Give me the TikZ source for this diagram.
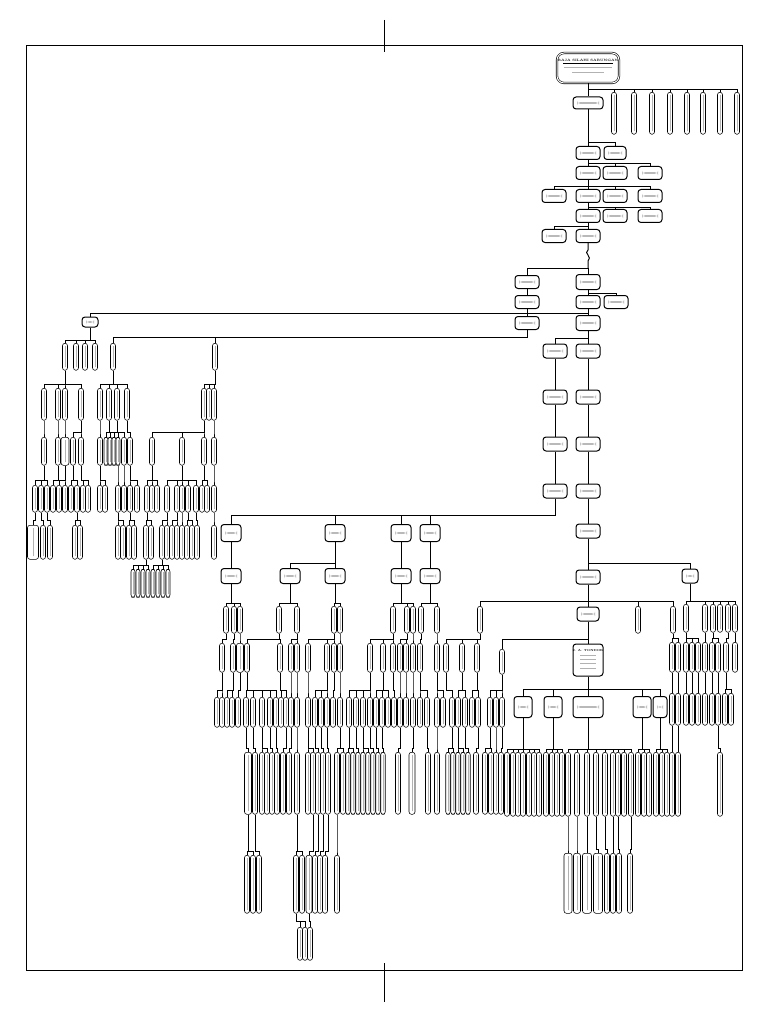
\documentclass[tikz,border=0pt]{standalone}
\begin{document}
\tikzset{
 con/.style={line width=1pt},
 capsule/.style={draw, line width=0.55pt, rounded corners=2.4pt, fill=white, inner sep=0pt,
   path picture={\draw[gray!60, line width=0.8pt] ([yshift=3pt]path picture bounding box.south) -- ([yshift=-3pt]path picture bounding box.north);}},
 box/.style={draw, line width=1pt, rounded corners=3pt, fill=white, inner sep=0pt, minimum width=24pt, minimum height=13pt,
   path picture={\fill[gray!55] ([xshift=4pt,yshift=-0.8pt]path picture bounding box.west) rectangle ([xshift=-4pt,yshift=0.8pt]path picture bounding box.east);}},
 tbox/.style={draw, line width=1pt, rounded corners=3pt, fill=white, inner sep=0pt},
 titlebox/.style={draw, double, double distance=1pt, line width=0.6pt, rounded corners=7pt, fill=white, inner sep=0pt, minimum width=62pt, minimum height=30pt}
}
% #1 width, #2 parent, #3 bar y, #4 list of x, #5 top y, #6 height, #7 prefix
\newcommand\kids[7][5]{%
  \foreach \xx [count=\k] in {#4}{%
    \node[capsule,minimum width=#1pt,minimum height=#6pt,anchor=north] (#7\k) at (\xx,#5) {};
    \draw[con] (#2.south) |- (\xx,#3) -- (#7\k.north);
  }}
\begin{tikzpicture}[x=1pt,y=-1pt]
\useasboundingbox (0,0) rectangle (768,1024);
\draw[line width=0.8pt] (26,45) rectangle (742,970);
\draw[line width=0.6pt] (384,20) -- (384,52);
\draw[line width=0.6pt] (384,963) -- (384,1002);

% ---------- top ----------
\node[titlebox] (root) at (588,68) {};
\node[font=\fontsize{3.2}{4}\selectfont\bfseries, inner sep=0pt] (rt) at (588,60) {RAJA SILAHI SABUNGAN};
\draw[line width=0.4pt] (563,63.5) -- (613,63.5);
\fill[gray!60] (564,67) rectangle (612,68.3);
\fill[gray!60] (572,72) rectangle (604,73.3);
\kids{root}{90}{614,634,652,670,687,703,720,737}{92}{42}{TP}
\node[box, minimum width=30pt, minimum height=12pt] (n1) at (588,103) {};
\draw[con] (root) -- (n1);
\node[box] (n2) at (588,153) {};
\node[box, minimum width=22pt] (s2) at (615,153) {};
\draw[con] (n1) -- (n2);
\draw[con] (n1.south) |- (615,143) -- (s2.north);
\node[box] (n3) at (588,173) {};
\node[box] (a3) at (615,173) {};
\node[box] (b3) at (650,173) {};
\draw[con] (n2) -- (n3);
\draw[con] (n2.south) |- (615,164) -- (a3.north);
\draw[con] (n2.south) |- (650,164) -- (b3.north);
\node[box] (c4) at (554,196) {};
\node[box] (n4) at (588,196) {};
\node[box] (a4) at (615,196) {};
\node[box] (b4) at (650,196) {};
\draw[con] (n3) -- (n4);
\draw[con] (n3.south) |- (554,187) -- (c4.north);
\draw[con] (n3.south) |- (615,187) -- (a4.north);
\draw[con] (n3.south) |- (650,187) -- (b4.north);
\node[box] (n5) at (588,216) {};
\node[box] (a5) at (615,216) {};
\node[box] (b5) at (650,216) {};
\draw[con] (n4) -- (n5);
\draw[con] (n4.south) |- (615,208) -- (a5.north);
\draw[con] (n4.south) |- (650,208) -- (b5.north);
\node[box] (c6) at (554,236) {};
\node[box] (n6) at (588,236) {};
\draw[con] (n5) -- (n6);
\draw[con] (n5.south) |- (554,227) -- (c6.north);
\coordinate (w) at (588,268);
\draw[con] (n6.south) -- (588,250) .. controls (583,253) and (593,257) .. (588,261) -- (w);

% ---------- upper spine ----------
\node[box] (c7) at (527,282) {};
\node[box, minimum height=15pt] (n7) at (588,282) {};
\draw[con] (w) -- (n7);
\draw[con] (w) -| (c7.north);
\node[box] (c8) at (527,302) {};
\node[box] (n8) at (588,302) {};
\node[box] (a8) at (616,302) {};
\draw[con] (c7) -- (c8);
\draw[con] (n7) -- (n8);
\draw[con] (n7.south) |- (616,293) -- (a8.north);
\node[box] (c9) at (527,323) {};
\node[box, minimum height=15pt] (n9) at (588,323) {};
\node[box, minimum width=16pt, minimum height=10pt] (L0) at (90,322) {};
\draw[con] (c8) -- (c9);
\draw[con] (n8) -- (n9);
\draw[con] (n8.south) |- (90,313) -- (L0.north);
\node[box, minimum height=14pt] (d10) at (555,351) {};
\node[box, minimum height=14pt] (n10) at (588,351) {};
\draw[con] (n9) -- (n10);
\draw[con] (n9.south) |- (555,338) -- (d10.north);
\node[box, minimum height=14pt] (d11) at (555,397) {};
\node[box, minimum height=14pt] (d12) at (555,444) {};
\node[box, minimum height=14pt] (d13) at (555,491) {};
\node[box, minimum height=14pt] (n11) at (588,397) {};
\node[box, minimum height=14pt] (n12) at (588,444) {};
\node[box, minimum height=14pt] (n13) at (588,491) {};
\draw[con] (d10) -- (d11) -- (d12) -- (d13);
\draw[con] (n10) -- (n11) -- (n12) -- (n13);

% ---------- middle row of boxes ----------
\foreach \nm/\xx in {e1/231,e2/335,e3/401,e4/430}{
  \node[box, minimum width=20pt, minimum height=17pt] (\nm) at (\xx,533) {};
  \draw[con] (d13.south) |- (\xx,515) -- (\nm.north);
}
\foreach \nm/\xx in {f1/231,f2/290,f3/335,f4/401,f5/430}{
  \node[box, minimum width=20pt, minimum height=15pt] (\nm) at (\xx,576) {};
}
\draw[con] (e1) -- (f1);
\draw[con] (e2) -- (f3);
\draw[con] (e2.south) |- (290,563) -- (f2.north);
\draw[con] (e3) -- (f4);
\draw[con] (e4) -- (f5);

% ---------- lower spine ----------
\node[box, minimum height=14pt] (n14) at (588,531) {};
\node[box, minimum height=14pt] (n15) at (588,577) {};
\node[box, minimum width=16pt, minimum height=14pt] (r15) at (690,576) {};
\draw[con] (n13) -- (n14) -- (n15);
\draw[con] (n14.south) |- (690,563) -- (r15.north);
\node[box, minimum width=22pt, minimum height=14pt] (n16) at (588,614) {};
\draw[con] (n15) -- (n16);
\kids{n15}{601}{480,638,673}{606}{27}{GS}
\kids{r15}{601}{686,705,713,720,728,735}{604}{28}{RG}
\node[tbox, minimum width=30pt, minimum height=32pt] (n17) at (588,660) {};
\node[font=\fontsize{2.9}{3.5}\selectfont\bfseries, inner sep=0pt] (tt) at (588,650) {2. A. TONDOK};
\foreach \yy in {655,659,663,668}{\fill[gray!60] (580,\yy) rectangle (596,\yy+1.2);}
\draw[con] (n16) -- (n17);
\kids{n16}{639}{502}{649}{25}{GT}
\foreach \nm/\xx/\ww in {h1/523/18,h2/553/18,h3/588/30,h4/642/18,h5/660/14}{
  \node[box, minimum width=\ww pt, minimum height=21pt] (\nm) at (\xx,707) {};
  \draw[con] (n17.south) |- (\xx,689) -- (\nm.north);
}
\kids{h1}{749}{507,513,518,523,529,534,539}{752}{64}{HA}
\kids{h2}{749}{546,552,557,562}{752}{64}{HB}
\kids{h3}{749}{568,577,587,596,605,613,618,624,631}{752}{64}{HC}
\kids{h4}{749}{638,644,649}{752}{64}{HD}
\kids{h5}{749}{656,662,667}{752}{64}{HE}
\kids[8]{HC1}{849}{568}{853}{60}{EA}
\kids[7]{HC2}{849}{577}{853}{60}{EB}
\kids[9]{HC3}{849}{587}{853}{60}{EC}
\kids[9]{HC4}{849}{598}{853}{60}{ED}
\kids{HC5}{849}{607}{853}{60}{EE}
\kids{HC6}{849}{613}{853}{60}{EF}
\kids{HC7}{849}{619}{853}{60}{EG}
\kids{HC9}{849}{630}{853}{60}{EH}

% ---------- right group ----------
\kids{GS3}{638}{672,678}{642}{30}{QA}
\kids{RG1}{638}{686,692,698}{642}{30}{QB}
\kids{RG2}{638}{705}{642}{30}{QC}
\kids{RG3}{638}{712,718}{642}{30}{QD}
\kids{RG5}{638}{726}{642}{30}{QE}
\kids{RG6}{638}{735}{642}{30}{QF}
\kids{QA1}{689}{672}{693}{32}{SA}
\kids{QA2}{689}{678}{693}{32}{SB}
\kids{QB1}{689}{686}{693}{32}{SC}
\kids{QB2}{689}{692}{693}{32}{SD}
\kids{QB3}{689}{698}{693}{32}{SE}
\kids{QC1}{689}{705}{693}{32}{SF}
\kids{QD1}{689}{712}{693}{32}{SG}
\kids{QD2}{689}{718}{693}{32}{SH}
\kids{QE1}{689}{725,731}{693}{32}{SI}
\kids{SA1}{748}{672}{752}{64}{UA}
\kids{SB1}{748}{678}{752}{64}{UB}
\kids{SH1}{748}{720}{752}{64}{UC}

% ---------- middle forest ----------
\kids{f1}{603}{226,234,240}{606}{27}{MA}
\kids{f2}{603}{279,297}{606}{27}{MB}
\kids{f3}{603}{334,340}{606}{27}{MC}
\kids{f4}{603}{393,407,413}{606}{27}{MD}
\kids{f5}{603}{421,437}{606}{27}{ME}
\kids{MA1}{639}{222}{643}{29}{NA}
\kids{MA2}{639}{233}{643}{29}{NB}
\kids[7]{MA3}{639}{240}{643}{29}{NC}
\kids{MB1}{639}{247,280}{643}{29}{ND}
\kids{MB2}{639}{291,297}{643}{29}{NE}
\kids{MC1}{639}{308,327,334}{643}{29}{NF}
\kids{MC2}{639}{340}{643}{29}{NG}
\kids{MD1}{639}{370,383,393}{643}{29}{NH}
\kids{MD2}{639}{400,406}{643}{29}{NI}
\kids{MD3}{639}{413}{643}{29}{NJ}
\kids{ME1}{639}{420}{643}{29}{NK}
\kids{ME2}{639}{437}{643}{29}{NL}
\kids{GS1}{639}{446,462,477}{643}{29}{NM}
\kids{NA1}{690}{217,222}{697}{30}{OA}
\kids{NB1}{690}{227,232}{697}{30}{OB}
\kids{NC1}{690}{238}{697}{30}{OC}
\kids{ND1}{690}{246,253,262,270,276}{697}{30}{OD}
\kids{ND2}{690}{281,286}{697}{30}{OE}
\kids{NE1}{690}{291}{697}{30}{OF}
\kids{NE2}{690}{297}{697}{30}{OW}
\kids{NF1}{690}{308}{697}{30}{OG}
\kids{NF2}{690}{315,321,327}{697}{30}{OH}
\kids{NF3}{690}{333}{697}{30}{OI}
\kids{NG1}{690}{340}{697}{30}{OJ}
\kids{NH1}{690}{349,356,363,370}{697}{30}{OK}
\kids{NH2}{690}{376,382,388}{697}{30}{OL}
\kids{NH3}{690}{394}{697}{30}{OM}
\kids{NI1}{690}{400}{697}{30}{ON}
\kids{NI2}{690}{406}{697}{30}{OO}
\kids{NJ1}{690}{413}{697}{30}{OP}
\kids{NK1}{690}{420,427}{697}{30}{OQ}
\kids{NL1}{690}{437,443}{697}{30}{OR}
\kids{NM1}{690}{452}{697}{30}{OS}
\kids{NM2}{690}{458,465}{697}{30}{OT}
\kids{NM3}{690}{472,478}{697}{30}{OU}
\kids{GT1}{690}{490,496,502}{697}{30}{OV}
\kids[7]{OD1}{748}{248}{752}{62}{PA}
\kids{OD2}{748}{255}{752}{62}{PB}
\kids{OD3}{748}{262,267}{752}{62}{PC}
\kids{OD4}{748}{272}{752}{62}{PD}
\kids{OD5}{748}{277}{752}{62}{PE}
\kids{OE2}{748}{283}{752}{62}{PF}
\kids{OF1}{748}{289}{752}{62}{PG}
\kids{OW1}{748}{297}{752}{62}{PH}
\kids{OG1}{748}{308,313}{752}{62}{PI}
\kids{OH1}{748}{318}{752}{62}{PJ}
\kids{OH2}{748}{323}{752}{62}{PK}
\kids{OH3}{748}{328}{752}{62}{PL}
\kids{OJ1}{748}{337,343}{752}{62}{PM}
\kids[4.5]{OK1}{748}{348,353}{752}{62}{XA}
\kids[4.5]{OK2}{748}{358}{752}{62}{XB}
\kids[4.5]{OK3}{748}{363,368}{752}{62}{XC}
\kids[4.5]{OK4}{748}{373}{752}{62}{XD}
\kids[4.5]{OL1}{748}{378}{752}{62}{XE}
\kids[4.5]{OL2}{748}{383}{752}{62}{XF}
\kids{ON1}{748}{398}{752}{62}{PN}
\kids[6]{OP1}{748}{412}{752}{62}{PO}
\kids{OQ2}{748}{428}{752}{62}{XG}
\kids{OR1}{748}{437}{752}{62}{XH}
\kids[4.5]{OS1}{748}{448,453}{752}{62}{XI}
\kids[4.5]{OT1}{748}{458,463}{752}{62}{XJ}
\kids[4.5]{OT2}{748}{468}{752}{62}{XK}
\kids{OU2}{748}{476}{752}{62}{PP}
\kids{OV1}{748}{485,491}{752}{62}{PQ}
\kids{OV2}{748}{496}{752}{62}{PR}
\kids{OV3}{748}{501}{752}{62}{PS}
\kids{PA1}{851}{247,253}{855}{58}{VA}
\kids{PB1}{851}{259}{855}{58}{VB}
\kids{PH1}{851}{296,302}{855}{58}{VC}
\kids[6]{PI2}{851}{309}{855}{58}{VD}
\kids{PJ1}{851}{315}{855}{58}{VE}
\kids{PK1}{851}{320}{855}{58}{VF}
\kids{PL1}{851}{325}{855}{58}{VG}
\kids{PM1}{851}{337}{855}{58}{VH}
\kids{VC1}{921}{300,305}{927}{33}{WA}
\kids{VD1}{921}{310}{927}{33}{WB}

% ---------- left cluster ----------
\kids{L0}{340}{65,76,85,95}{343}{27}{LA}
\kids{c9}{337}{113,215}{343}{27}{LP}
\kids{LA1}{384}{44,58,65,81}{388}{32}{LB}
\kids{LP1}{384}{100,109,117,127}{388}{32}{LC}
\kids{LP2}{384}{204,209,214}{388}{32}{LD}
\kids{LB1}{432}{44}{437}{28}{LE}
\kids{LB2}{432}{58}{437}{28}{LF}
\kids[8]{LB3}{432}{65}{437}{28}{LG}
\kids{LB4}{432}{73,81}{437}{28}{LH}
\kids{LC1}{432}{100}{437}{28}{LI}
\kids[4]{LC2}{432}{106,110,114,118}{437}{28}{LJ}
\kids{LC3}{432}{124}{437}{28}{LK}
\kids{LC4}{432}{130}{437}{28}{LL}
\kids{LD1}{432}{152,182,204}{437}{28}{LM}
\kids{LD3}{432}{214}{437}{28}{LN}
\kids{LE1}{480}{35,41,47}{485}{27}{KA}
\kids{LF1}{480}{53}{485}{27}{KB}
\kids{LG1}{480}{59,65}{485}{27}{KC}
\kids{LH1}{480}{71,77}{485}{27}{KD}
\kids{LH2}{480}{83,88}{485}{27}{KE}
\kids{LI1}{480}{100,105}{485}{27}{KF}
\kids{LJ4}{480}{118}{485}{27}{KG}
\kids{LK1}{480}{124}{485}{27}{KH}
\kids{LL1}{480}{130,137}{485}{27}{KI}
\kids{LM1}{480}{147,152,157}{485}{27}{KJ}
\kids{LM2}{480}{167,177,182,188,196}{485}{27}{KK}
\kids{LM3}{480}{202,207}{485}{27}{KL}
\kids{LN1}{480}{214}{485}{27}{KM}
\kids[11]{KA1}{520}{33}{525}{34}{JA}
\kids{KA2}{520}{43}{525}{34}{JB}
\kids{KA3}{520}{50}{525}{34}{JC}
\kids{KD2}{520}{75,80}{525}{34}{JD}
\kids{KG1}{520}{118,123}{525}{34}{JE}
\kids{KI1}{520}{129,134}{525}{34}{JF}
\kids{KJ1}{520}{146,151}{525}{34}{JG}
\kids{KK1}{520}{162,167}{525}{34}{JH}
\kids{KK2}{520}{172,177}{525}{34}{JI}
\kids{KK3}{520}{182}{525}{34}{JJ}
\kids{KK4}{520}{187,192}{525}{34}{JK}
\kids{KK5}{520}{197}{525}{34}{JL}
\kids{KM1}{520}{214}{525}{34}{JM}
\kids[4]{JG1}{565}{133,138,143,148}{569}{28}{IA}
\kids[4]{JH1}{565}{153,158,163,168}{569}{28}{IB}
\end{tikzpicture}
\end{document}
